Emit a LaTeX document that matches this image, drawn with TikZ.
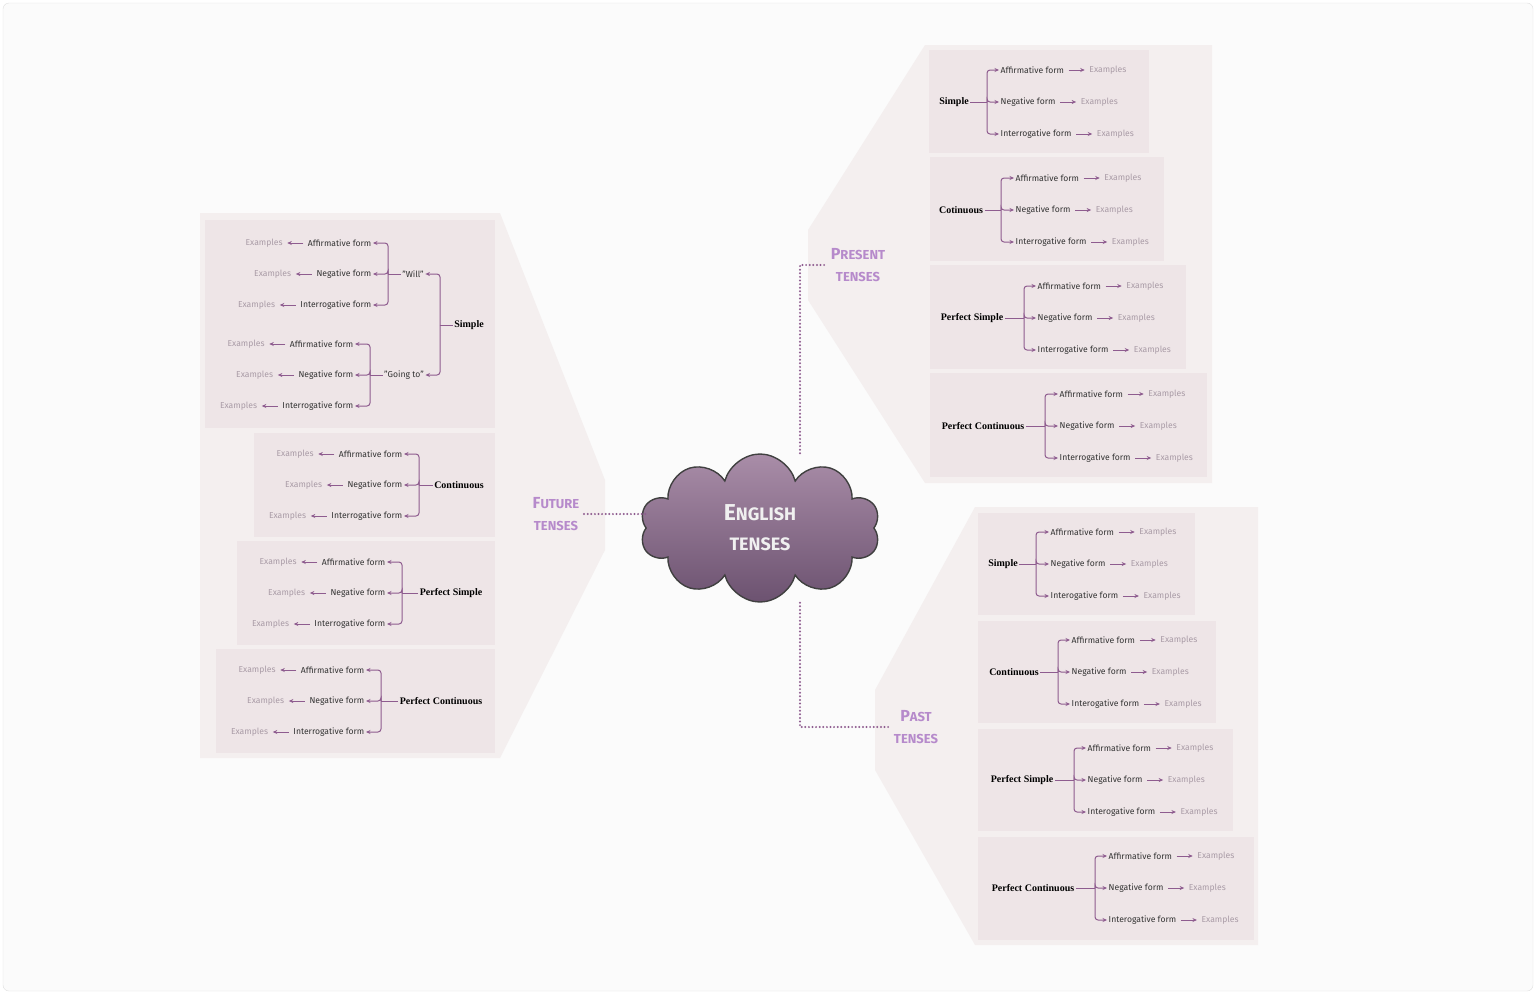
\documentclass[tikz,border=0pt]{standalone}
\usepackage{fontspec}
\setmainfont{Fira Sans}
\newfontfamily\rootfont{Liberation Serif}
\usepackage{tikz}
\usetikzlibrary{positioning,shapes.symbols,arrows.meta}

\definecolor{plum}{HTML}{8E5C8F}
\definecolor{exgray}{HTML}{A99BA6}
\definecolor{panel}{HTML}{F4EFEF}
\definecolor{blockbg}{HTML}{EEE5E7}
\definecolor{lilac}{HTML}{B68ACB}
\definecolor{cloudtop}{HTML}{A98DA8}
\definecolor{cloudbot}{HTML}{6C5270}

\tikzset{
	form/.style={font=\fontsize{8.6}{10}\selectfont, text=black!80, inner sep=1.5pt},
	ex/.style={font=\fontsize{8.6}{10}\selectfont, text=exgray, inner sep=1.5pt},
	root/.style={font=\rootfont\bfseries\fontsize{10}{12}\selectfont, inner sep=1.5pt},
	stem/.style={draw=plum, line width=1pt},
	br/.style={draw=plum, line width=1pt, rounded corners=3pt, -{Stealth[length=4.5pt,width=4pt]}},
	arr/.style={draw=plum, line width=1pt, -{Stealth[length=4.5pt,width=4pt]}, shorten <=3pt, shorten >=3pt},
	dots/.style={draw=plum, line width=2.2pt, line cap=round, dash pattern=on 0pt off 3.6pt},
	tlabel/.style={text=lilac, font=\bfseries\fontsize{13}{22}\selectfont, align=center},
}

% forms to the right of a parent node: id, y, branch x, child x, interrogative text
\newcommand{\formsR}[5]{
	\coordinate (#1-b) at (#3,#2);
	\draw[stem] (#1.east) -- (#1-b);
	\foreach \k/\t/\dy in {a/Affirmative form/-32, n/Negative form/0, i/#5/32}{
		\node[form, anchor=west] (#1-\k) at (#4,{#2+(\dy)}) {\t};
		\node[ex, right=22pt of #1-\k] (#1-\k-x) {Examples};
		\draw[br] (#1-b) |- (#1-\k.west);
		\draw[arr] (#1-\k) -- (#1-\k-x);
	}
}
% forms to the left of a parent node
\newcommand{\formsL}[5]{
	\coordinate (#1-b) at (#3,#2);
	\draw[stem] (#1.west) -- (#1-b);
	\foreach \k/\t/\dy in {a/Affirmative form/-31, n/Negative form/0, i/#5/31}{
		\node[form, anchor=east] (#1-\k) at (#4,{#2+(\dy)}) {\t};
		\node[ex, left=22pt of #1-\k] (#1-\k-x) {Examples};
		\draw[br] (#1-b) |- (#1-\k.east);
		\draw[arr] (#1-\k) -- (#1-\k-x);
	}
}

\begin{document}
\begin{tikzpicture}[x=1pt,y=-1pt]
	\useasboundingbox (0,0) rectangle (1536,994);
	\fill[white] (0,0) rectangle (1536,994);
	\draw[black!12, fill=black!1.5, rounded corners=6pt] (3,3) rectangle (1533,991);
	%
	% panels
	\fill[panel] (925,45) -- (1212,45) -- (1212,483) -- (925,483) -- (808,300) -- (808,230) -- cycle;
	\fill[panel] (975,507) -- (1258,507) -- (1258,945) -- (975,945) -- (875,770) -- (875,690) -- cycle;
	\fill[panel] (200,213) -- (500,213) -- (605,480) -- (605,550) -- (500,758) -- (200,758) -- cycle;
	% blocks
	\foreach \xa/\ya/\xb/\yb in {929/50/1149/153, 930/157/1164/261, 930/265/1186/369, 930/373/1207/477,
		978/513/1195/615, 978/621/1216/723, 978/729/1233/831, 978/837/1254/940,
		205/220/495/428, 254/433/495/537, 237/541/495/645, 216/649/495/753}
		\fill[blockbg] (\xa,\ya) rectangle (\xb,\yb);
	%
	% centre
	\node[cloud, cloud puffs=10, aspect=1.7, minimum width=240, minimum height=148, draw=black!75, line width=1.4pt,
		top color=cloudtop, bottom color=cloudbot, text=white!94!black, align=center,
		font=\bfseries\fontsize{18}{30}\selectfont] (eng) at (760,528) {{\fontsize{23}{30}\selectfont E}NGLISH\\TENSES};
	\node[tlabel] (pres) at (858,265) {{\fontsize{16}{22}\selectfont P}RESENT\\TENSES};
	\node[tlabel] (past) at (916,727) {{\fontsize{16}{22}\selectfont P}AST\\TENSES};
	\node[tlabel] (fut) at (556,514) {{\fontsize{16}{22}\selectfont F}UTURE\\TENSES};
	\coordinate (pres-c) at (800,265);
	\coordinate (past-c) at (800,727);
	\draw[dots] (eng.north -| pres-c) -- (pres-c) -- (pres.west);
	\draw[dots] (eng.south -| past-c) -- (past-c) -- (past.west);
	\draw[dots] (eng.west |- fut) -- (fut.east);
	%
	% present
	\node[root] (ps) at (954,102) {Simple};
	\formsR{ps}{102}{987}{999}{Interrogative form}
	\node[root] (pc) at (961,210) {Cotinuous};
	\formsR{pc}{210}{1001}{1014}{Interrogative form}
	\node[root] (pps) at (972,318) {Perfect Simple};
	\formsR{pps}{318}{1024}{1036}{Interrogative form}
	\node[root] (ppc) at (983,426) {Perfect Continuous};
	\formsR{ppc}{426}{1045}{1058}{Interrogative form}
	%
	% past
	\node[root] (as) at (1003,564) {Simple};
	\formsR{as}{564}{1036}{1049}{Interogative form}
	\node[root] (ac) at (1014,672) {Continuous};
	\formsR{ac}{672}{1058}{1070}{Interogative form}
	\node[root] (aps) at (1022,780) {Perfect Simple};
	\formsR{aps}{780}{1074}{1086}{Interogative form}
	\node[root] (apc) at (1033,888) {Perfect Continuous};
	\formsR{apc}{888}{1095}{1107}{Interogative form}
	%
	% future
	\node[root] (fs) at (469,325) {Simple};
	\node[form] (fs-w) at (413,274) {"Will"};
	\node[form] (fs-g) at (404,375) {"Going to"};
	\coordinate (fs-b) at (440,325);
	\draw[stem] (fs.west) -- (fs-b);
	\draw[br] (fs-b) |- (fs-w.east);
	\draw[br] (fs-b) |- (fs-g.east);
	\formsL{fs-w}{274}{388}{373}{Interrogative form}
	\formsL{fs-g}{375}{370}{355}{Interrogative form}
	\node[root] (fc) at (459,485) {Continuous};
	\formsL{fc}{485}{419}{404}{Interrogative form}
	\node[root] (fps) at (451,593) {Perfect Simple};
	\formsL{fps}{593}{402}{387}{Interrogative form}
	\node[root] (fpc) at (441,701) {Perfect Continuous};
	\formsL{fpc}{701}{381}{366}{Interrogative form}
\end{tikzpicture}
\end{document}
